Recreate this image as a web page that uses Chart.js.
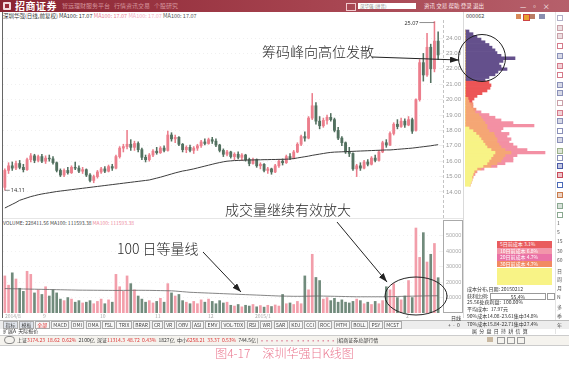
<!DOCTYPE html>
<html><head><meta charset="utf-8">
<script src="https://cdn.jsdelivr.net/npm/chart.js@4.4.1/dist/chart.umd.min.js"></script>
<style>
html,body{margin:0;padding:0;background:#fff;}
#root{position:relative;width:569px;height:378px;overflow:hidden;font-family:"Noto Sans CJK SC","Noto Sans",sans-serif;background:#fff;}
.abs{position:absolute;white-space:nowrap;}
canvas{position:absolute;}
.t5{font-size:5px;line-height:6px;}
.t55{font-size:5.5px;line-height:7px;}
.tb span{display:inline-block;border:0.5px solid #aaa;padding:0 1.4px;margin-right:1.2px;background:#f7f7f7;color:#444;}
</style></head><body><div id="root">

<!-- window title bar -->
<div class="abs" style="left:0;top:0;width:569px;height:12px;background:linear-gradient(90deg,#8a2432,#a6434f 55%,#b6606b);"></div>
<div class="abs" style="left:3px;top:2px;width:8px;height:8px;background:#f3d9dc;border-radius:1px;"></div>
<div class="abs" style="left:5px;top:4px;width:4px;height:4px;background:#9a2a38;"></div>
<div class="abs" style="left:15px;top:-1px;font-size:10px;line-height:13px;font-weight:bold;color:#fff;letter-spacing:0.5px;">招商证券</div>
<div class="abs" style="left:62px;top:2px;font-size:6px;line-height:8px;color:rgba(255,215,220,0.6);">智远理财服务平台&nbsp;&nbsp;&nbsp;行情资讯交易&nbsp;&nbsp;&nbsp;个股研究</div>
<div class="abs" style="left:346px;top:3px;width:8px;height:6px;border:0.5px solid #f0c8cc;"></div>
<div class="abs" style="left:358px;top:3px;width:56px;height:6px;background:#fff;font-size:4.5px;line-height:6px;color:#888;padding-left:2px;">深华强 (拼音)</div>
<div class="abs" style="left:424px;top:2px;font-size:5.5px;line-height:8px;color:#fbe6e8;">资讯 交易 帮助 登录 退出</div>
<div class="abs" style="left:520px;top:0px;font-size:7px;line-height:12px;color:#fff;">—&nbsp;&nbsp;&nbsp;▫&nbsp;&nbsp;&nbsp;×</div>

<!-- info header line -->
<div class="abs t55" style="left:3px;top:13px;color:#333;">深圳华强(日线,前复权) MA100: 17.07 <span style="color:#e87f95">MA100: 17.07</span> <span style="color:#f2b0bf">MA100: 17.07</span> <span style="color:#555">MA100: 17.07</span></div>
<div class="abs t55" style="left:466px;top:13px;color:#444;">000062</div>
<div class="abs" style="left:516px;top:14px;width:5px;height:5px;background:#d88a5a;"></div>
<div class="abs" style="left:523px;top:14px;width:5px;height:5px;background:#e8a030;border:0.5px solid #c44;"></div>
<div class="abs" style="left:530px;top:14px;width:5px;height:5px;background:#b97c66;"></div>
<div class="abs" style="left:539px;top:14px;width:6px;height:5px;background:#8a8fb0;"></div>

<!-- frame lines -->
<div class="abs" style="left:2px;top:12px;width:1px;height:306px;background:#666;"></div>
<div class="abs" style="left:443px;top:20px;width:0;height:198px;border-left:0.5px dashed #c4c4c4;"></div>
<div class="abs" style="left:463px;top:12px;width:1px;height:306px;background:#dadada;"></div>
<div class="abs" style="left:3px;top:218px;width:460px;height:1px;background:#e6e6e6;"></div>
<div class="abs" style="left:443px;top:220px;width:20px;height:93px;border:0.5px solid #aaa;box-sizing:border-box;"></div>
<div class="abs" style="left:555px;top:12px;width:1px;height:322px;background:#e4e4e4;"></div>

<canvas id="price" width="465" height="192" style="left:0;top:18px;width:465px;height:192px;"></canvas>
<canvas id="chip" width="90" height="192" style="left:465px;top:18px;width:90px;height:192px;"></canvas>
<canvas id="vol" width="465" height="87" style="left:0;top:226px;width:465px;height:87px;"></canvas>

<div class="abs t5" style="left:3px;top:220px;color:#444;">VOLUME: 228411.56 MA100: 111593.38 <span style="color:#ec8ca0">MA100: 111593.38</span></div>

<!-- date labels -->
<div class="abs t5" style="left:5px;top:313px;color:#aaa;">2014/8</div>
<div class="abs t5" style="left:43px;top:313px;color:#aaa;">9</div>
<div class="abs t5" style="left:100px;top:313px;color:#aaa;">10</div>
<div class="abs t5" style="left:155px;top:313px;color:#aaa;">11</div>
<div class="abs t5" style="left:208px;top:313px;color:#aaa;">12</div>
<div class="abs t5" style="left:255px;top:313px;color:#aaa;">2015/1</div>
<div class="abs t5" style="left:406px;top:313px;color:#aaa;">2</div>

<!-- bottom toolbars -->
<div class="abs" style="left:0;top:320px;width:569px;height:8px;background:#ededed;border-top:0.5px solid #bbb;"></div>
<div class="abs t5 tb" style="left:3px;top:321px;"><span style="background:#dfe3ea">指标</span><span style="background:#dfe3ea">模板</span><span style="color:#d33">全部</span><span>MACD</span><span>DMI</span><span>DMA</span><span>FSL</span><span>TRIX</span><span>BRAR</span><span>CR</span><span>VR</span><span>OBV</span><span>ASI</span><span>EMV</span><span>VOL-TDX</span><span>RSI</span><span>WR</span><span>SAR</span><span>KDJ</span><span>CCI</span><span>ROC</span><span>MTM</span><span>BOLL</span><span>PSY</span><span>MCST</span></div>
<div class="abs t5" style="left:3px;top:328px;color:#333;">扩展A&nbsp;&nbsp;天际报价</div>
<div class="abs" style="left:0;top:335px;width:569px;height:9px;background:#f5f3ee;border-top:0.5px solid #ccc;border-bottom:0.5px solid #ccc;"></div>
<div class="abs" style="left:4px;top:336px;width:9px;height:6px;border:0.5px solid #888;border-radius:4px;"></div>
<div class="abs t5" style="left:17px;top:336.5px;color:#333;">上证<span style="color:#d33">3174.23&nbsp;&nbsp;18.62&nbsp;&nbsp;0.62%</span>&nbsp;&nbsp;2100亿&nbsp;&nbsp;深证<span style="color:#d33">11314.3&nbsp;&nbsp;48.72&nbsp;&nbsp;0.43%</span>&nbsp;&nbsp;1827亿&nbsp;&nbsp;中小<span style="color:#d33">6258.21&nbsp;&nbsp;33.37&nbsp;&nbsp;0.53%</span>&nbsp;&nbsp;744.5亿&nbsp;|&nbsp;<span style="color:#e08aa0">▪▪▪▪▪▪▪ ▪▪▪▪▪▪▪▪</span>&nbsp;|招商证券总部行情</div>
<div class="abs" style="left:487px;top:337px;width:6px;height:5px;background:#c9b8a0;"></div>
<div class="abs" style="left:497px;top:337px;width:6px;height:5px;border:0.5px solid #999;"></div>
<div class="abs" style="left:507px;top:337px;width:6px;height:5px;border:0.5px solid #999;"></div>
<div class="abs" style="left:517px;top:337px;width:6px;height:5px;border:0.5px solid #999;"></div>

<!-- right info panel -->
<div class="abs t5" style="left:451px;top:315px;color:#333;">日线</div>
<div class="abs t5" style="left:448px;top:322px;color:#333;">+&nbsp;&nbsp;-&nbsp;&nbsp;0</div>
<div class="abs t5" style="left:472px;top:328px;color:#333;">属&nbsp;&nbsp;分&nbsp;&nbsp;盘&nbsp;&nbsp;日&nbsp;&nbsp;持&nbsp;&nbsp;耕&nbsp;&nbsp;信&nbsp;&nbsp;算</div>
<div class="abs t5" style="left:497px;top:241px;width:55px;height:6.5px;background:#e95c5e;color:#fff;padding-left:3px;box-sizing:border-box;">5日前成本 3.1%</div>
<div class="abs t5" style="left:497px;top:247.5px;width:55px;height:6.5px;background:#f296aa;color:#fff;padding-left:3px;box-sizing:border-box;">10日前成本 6.8%</div>
<div class="abs t5" style="left:497px;top:254px;width:55px;height:6.5px;background:#ea72a6;color:#fff;padding-left:3px;box-sizing:border-box;">20日前成本 4.7%</div>
<div class="abs t5" style="left:497px;top:260.5px;width:55px;height:6.5px;background:#f28a62;color:#fff;padding-left:3px;box-sizing:border-box;">30日前成本 4.7%</div>
<div class="abs" style="left:497px;top:268px;width:55px;height:17px;background:#f8f386;"></div>
<div class="abs t5" style="left:467px;top:286px;color:#333;">成本分布,日期: 20150212</div>
<div class="abs t5" style="left:467px;top:292.5px;color:#333;">获利比例:</div>
<div class="abs t5" style="left:490px;top:292.5px;width:54px;height:5px;border:0.5px solid #999;text-align:center;color:#333;line-height:5px;">55.4%</div>
<div class="abs" style="left:547px;top:292.5px;width:6px;height:5px;border:0.5px solid #999;"></div>
<div class="abs t5" style="left:467px;top:299px;color:#333;">25.56处获利盘:&nbsp;&nbsp;100.00%</div>
<div class="abs t5" style="left:467px;top:305.5px;color:#333;">平均成本:&nbsp;&nbsp;17.97元</div>
<div class="abs t5" style="left:467px;top:313px;color:#333;">90%成本14.08-23.61集中34.8%</div>
<div class="abs t5" style="left:467px;top:321px;color:#333;">70%成本15.84-22.71集中27.4%</div>

<div id="rtool"></div>

<svg class="abs" style="left:0;top:0;" width="569" height="378">
<defs><marker id="ah" viewBox="0 0 10 7" refX="10" refY="3.5" markerWidth="9" markerHeight="6.3" orient="auto"><path d="M0,0 L10,3.5 L0,7 z" fill="#222"/></marker></defs>
<g font-family="'Noto Sans CJK SC',sans-serif" font-weight="300" fill="#2a2a2a">
<text x="262" y="57" font-size="14">筹码峰向高位发散</text>
<text x="225" y="215" font-size="14">成交量继续有效放大</text>
<text x="117" y="254" font-size="14">100 日等量线</text>
</g>
<line x1="372" y1="57" x2="459" y2="60" stroke="#222" stroke-width="1" marker-end="url(#ah)"/>
<circle cx="482" cy="58" r="23.5" fill="none" stroke="#222" stroke-width="1"/>
<line x1="337" y1="222" x2="387" y2="282" stroke="#222" stroke-width="1" marker-end="url(#ah)"/>
<ellipse cx="416" cy="296" rx="31" ry="19" fill="none" stroke="#222" stroke-width="1"/>
<line x1="203" y1="252" x2="241" y2="292" stroke="#222" stroke-width="1" marker-end="url(#ah)"/>
</svg>

<div class="abs" style="left:0;top:345px;width:569px;text-align:center;font-size:12px;line-height:16px;color:#ea7890;font-weight:300;">图4-17　深圳华强日K线图</div>
</div>

<script>
// ---------- price candles (daily) ----------
const open = [14.30,15.40,15.70,15.55,15.85,15.60,15.45,16.10,16.35,16.05,16.30,16.00,16.20,16.15,
15.90,15.40,15.10,15.40,15.25,15.60,15.55,15.35,15.45,15.10,14.75,
15.00,15.30,15.50,15.35,15.65,
15.55,16.30,16.85,16.95,17.10,16.90,17.15,
16.75,16.25,16.10,16.40,16.65,16.55,16.85,
16.70,17.70,17.45,17.55,
17.10,16.75,16.90,16.70,16.85,
17.00,17.25,17.15,17.40,17.30,
17.05,16.70,16.45,16.60,16.30,16.45,16.25,16.40,16.10,15.85,16.10,15.70,
15.80,15.40,15.50,15.30,
15.70,16.00,15.90,16.30,16.20,16.60,17.10,17.60,
17.50,18.80,19.60,18.60,18.30,18.65,18.85,18.70,18.00,17.50,17.20,16.60,
16.50,15.50,15.70,15.55,15.95,15.80,16.20,
16.05,16.60,17.20,17.05,17.80,18.40,18.25,18.60,18.35,18.70,
18.00,20.00,22.40,21.60,23.40,22.00,23.80];
const high = [15.50,15.90,15.95,16.00,16.05,15.80,16.20,16.50,16.45,16.40,16.45,16.35,16.40,16.30,
15.95,15.50,15.50,15.60,15.70,15.95,15.70,15.60,15.50,15.20,15.10,
15.40,15.60,15.65,15.75,15.80,
16.40,16.95,17.10,18.00,17.40,17.30,17.25,
16.85,16.40,16.50,16.75,16.90,16.95,17.00,
17.95,17.85,17.70,17.60,
17.15,17.00,17.05,16.95,17.10,
17.35,17.45,17.50,17.55,17.45,
17.10,16.80,16.70,16.65,16.55,16.60,16.50,16.45,16.20,16.20,16.15,15.90,
15.85,15.60,15.55,15.80,
16.10,16.15,16.40,16.50,16.70,17.20,17.70,17.90,
18.90,20.40,19.80,18.90,18.80,19.00,19.10,18.80,18.20,17.60,17.25,16.90,
16.55,15.80,15.90,16.05,16.10,16.30,16.40,
16.70,17.30,17.40,17.90,18.50,18.70,18.80,18.75,18.90,18.80,
20.05,22.60,23.00,24.30,23.60,25.07,24.40];
const low = [14.11,15.20,15.40,15.45,15.50,15.30,15.40,15.95,15.90,15.95,15.90,15.85,16.00,15.80,
15.30,15.00,15.00,15.15,15.20,15.45,15.25,15.20,15.00,14.65,14.60,
14.90,15.20,15.25,15.30,15.40,
15.50,16.20,16.60,16.80,16.70,16.70,16.60,
16.10,15.95,16.00,16.30,16.45,16.50,16.60,
16.65,17.30,17.20,17.00,
16.60,16.55,16.60,16.50,16.70,
16.90,17.05,17.10,17.15,16.95,
16.60,16.30,16.35,16.20,16.10,16.15,16.05,16.00,15.70,15.80,15.60,15.50,
15.30,15.20,15.15,15.25,
15.60,15.75,15.85,16.10,16.15,16.55,17.00,17.30,
17.45,18.70,18.40,18.10,18.20,18.40,18.60,17.90,17.40,17.00,16.50,16.30,
15.40,15.00,15.40,15.50,15.70,15.75,15.95,
16.00,16.55,16.90,17.00,17.70,18.10,18.20,18.20,18.30,17.80,
17.95,19.90,21.20,21.50,21.10,21.80,22.60];
const close = [15.40,15.70,15.55,15.85,15.60,15.45,16.10,16.35,16.05,16.30,16.00,16.20,16.15,15.90,
15.40,15.10,15.40,15.25,15.60,15.55,15.35,15.45,15.10,14.75,15.00,
15.30,15.50,15.35,15.65,15.55,
16.30,16.85,16.95,17.10,16.90,17.15,16.75,
16.25,16.10,16.40,16.65,16.55,16.85,16.70,
17.70,17.45,17.55,17.10,
16.75,16.90,16.70,16.85,17.00,
17.25,17.15,17.40,17.30,17.05,
16.70,16.45,16.60,16.30,16.45,16.25,16.40,16.10,15.85,16.10,15.70,15.80,
15.40,15.50,15.30,15.70,
16.00,15.90,16.30,16.20,16.60,17.10,17.60,17.50,
18.80,19.60,18.60,18.30,18.65,18.85,18.70,18.00,17.50,17.20,16.60,16.50,
15.50,15.70,15.55,15.95,15.80,16.20,16.05,
16.60,17.20,17.05,17.80,18.40,18.25,18.60,18.35,18.70,17.95,
20.00,22.40,21.60,23.40,22.00,23.80,22.90];
const ma100 = [12.96,13.08,13.20,13.32,13.46,13.54,13.62,13.70,13.76,13.82,
13.87,13.91,13.95,13.99,14.03,14.06,14.09,14.12,14.15,14.18,
14.21,14.24,14.27,14.30,14.33,14.36,14.39,14.42,14.45,14.48,
14.51,14.54,14.57,14.60,14.63,14.66,14.69,14.72,14.75,14.78,
14.84,14.90,14.96,15.03,15.10,15.17,15.24,15.30,15.36,15.40,
15.45,15.50,15.56,15.62,15.68,15.74,15.80,15.86,15.91,15.96,
16.00,16.02,16.04,16.05,16.06,16.07,16.08,16.08,16.09,16.09,
16.10,16.10,16.11,16.11,16.12,16.12,16.13,16.14,16.17,16.21,
16.25,16.29,16.33,16.38,16.42,16.46,16.50,16.54,16.57,16.59,
16.60,16.61,16.62,16.63,16.64,16.65,16.66,16.67,16.68,16.69,
16.70,16.71,16.72,16.73,16.73,16.75,16.77,16.79,16.81,16.83,
16.85,16.88,16.91,16.94,16.97,17.00,17.04,17.07];
const priceTicks = [14,15,16,17,18,19,20,21,22,23,24];

// ---------- volume ----------
const volume = [24000,18000,26000,22000,16000,14000,27000,25000,13000,15000,
12000,17000,11000,15000,13000,9000,8000,10000,9000,7000,
8000,6500,7000,8000,6000,7500,9000,6000,8500,7000,
25000,17000,14000,24000,19000,15000,11000,9000,7000,8000,
6500,7500,9500,7000,19000,13000,11000,12000,8000,7000,
6000,7500,6000,8500,7000,9000,7500,6000,8000,6500,
7000,5000,4500,5500,4000,5000,4500,5500,4000,4800,
3800,5000,4200,5200,4500,12000,6000,6500,5500,7500,
6000,24000,15000,38000,23000,21000,9000,10000,8000,9500,
7000,8500,7000,6500,7500,9000,8000,6000,7000,5500,
7500,6000,8000,17000,15000,19000,10000,8500,11000,21000,
10000,55000,36000,52000,33000,38000,45000,22841];
const volMa100 = [15800,15750,15700,15650,15600,15550,15500,15450,15400,15350,
15300,15250,15200,15150,15100,15050,15000,14950,14900,14850,
14800,14780,14760,14740,14720,14700,14680,14660,14640,14620,
14600,14620,14640,14660,14680,14700,14700,14680,14660,14640,
14600,14550,14500,14450,14400,14350,14200,14000,13800,13600,
13400,13300,13200,13100,13000,12900,12800,12700,12600,12500,
12400,12300,12200,12100,12000,11900,11800,11700,11600,11500,
11400,11300,11200,11100,11000,10950,10900,10850,10800,10800,
10800,10850,10900,10950,11000,11000,10950,10900,10850,10800,
10750,10700,10650,10600,10550,10500,10500,10500,10500,10500,
10500,10500,10500,10550,10600,10650,10700,10750,10800,10850,
10900,10950,11000,11050,11080,11110,11140,11160];
const volTicks = [10000,20000,30000,40000,50000];

// ---------- chip distribution (cost profile) ----------
const chipPrice  = [25.2,25.0,24.8,24.6,24.4,24.2,24.0,23.8,23.6,23.4,23.2,23.0,22.8,22.6,22.4,22.2,22.0,21.8,21.6,
21.4,21.2,21.0,20.8,20.6,20.4,20.2,20.0,19.8,19.6,19.4,19.2,19.0,18.8,18.6,18.4,18.2,18.0,17.8,17.6,17.4,17.2,17.0,
16.8,16.6,16.4,16.2,16.0,15.8,15.6,15.4,15.2,15.0,14.8,14.6,14.4,14.2,14.0,13.8];
const chipYellow = [0,0,0,0,0,0,0,0,0,0,0,0,0,0,0,0,0,0,0,
0,0,0,0,0,0,0,0,0,0,0,0,0,0,0,0,0,4,8,11,14,16,18,
20,22,26,30,28,26,24,22,18,12,9,8,7,7,6,5];
const chipOrange = [0,0,0,0,0,0,0,0,0,0,0,0,0,0,0,0,0,0,0,
0,0,0,0,0,0,3,4,5,6,8,10,14,16,18,20,22,18,16,18,16,16,14,
14,14,14,16,12,12,12,10,8,4,2,1,1,0,0,0];
const chipTop    = [4,8,12,16,20,24,27,30,32,36,50,38,34,36,42,33,30,24,20,
24,26,25,22,17,12,6,3,3,2,3,6,10,14,18,28,47,16,12,15,12,14,12,
14,16,22,34,12,10,12,8,6,3,1,1,0,0,0,0];

// ---------- rendering ----------
const labels = open.map((_, i) => String(i));
const isUp = close.map((c, i) => c >= open[i]);
const candleCol = isUp.map(u => u ? '#ec7e8c' : '#52705f');
const volCol = isUp.map(u => u ? '#f29eaa' : '#718b7c');
const Y0 = 12.83, Y1 = 25.3;

const extremes = {
  id: 'extremes',
  afterDatasetsDraw(chart) {
    const {ctx, scales: {x, y}} = chart;
    let iMax = 0, iMin = 0;
    high.forEach((h, i) => { if (h > high[iMax]) iMax = i; });
    low.forEach((l, i) => { if (l < low[iMin]) iMin = i; });
    ctx.save();
    ctx.font = '5.5px "Noto Sans", sans-serif';
    ctx.fillStyle = '#333'; ctx.strokeStyle = '#444'; ctx.lineWidth = 0.6;
    let px = x.getPixelForValue(iMax), py = y.getPixelForValue(high[iMax]);
    ctx.textAlign = 'right'; ctx.textBaseline = 'middle';
    ctx.fillText(high[iMax].toFixed(2), px - 16, py + 2);
    ctx.beginPath(); ctx.moveTo(px - 15, py + 1); ctx.lineTo(px, py + 1); ctx.stroke();
    px = x.getPixelForValue(iMin); py = y.getPixelForValue(low[iMin]);
    ctx.textAlign = 'left';
    ctx.beginPath(); ctx.moveTo(px, py); ctx.lineTo(px + 5, py); ctx.stroke();
    ctx.fillText(low[iMin].toFixed(2), px + 6, py);
    ctx.restore();
  }
};

new Chart(document.getElementById('price'), {
  type: 'bar',
  data: {
    labels,
    datasets: [
      {type: 'line', data: ma100, borderColor: '#3c3c3c', borderWidth: 1, pointRadius: 0, order: 0},
      {data: open.map((o, i) => [o, close[i]]), backgroundColor: candleCol, barThickness: 2.2, grouped: false, order: 1},
      {data: low.map((l, i) => [l, high[i]]), backgroundColor: candleCol, barThickness: 0.9, grouped: false, order: 2}
    ]
  },
  options: {
    animation: false, responsive: false, devicePixelRatio: 1,
    layout: {padding: {left: 3, right: 0, top: 0, bottom: 0}},
    plugins: {legend: {display: false}, tooltip: {enabled: false}},
    scales: {
      x: {display: false},
      y: {
        position: 'right', min: Y0, max: Y1,
        afterFit(s) { s.width = 25; s.paddingTop = 0; s.paddingBottom = 0; },
        afterBuildTicks(s) { s.ticks = priceTicks.map(v => ({value: v})); },
        ticks: {font: {size: 6}, color: '#9a9a9a', padding: 3, callback: v => Number(v).toFixed(2)},
        grid: {color: 'rgba(0,0,0,0.06)', tickLength: 3},
        border: {display: false, dash: [1, 3]}
      }
    }
  },
  plugins: [extremes]
});

new Chart(document.getElementById('vol'), {
  type: 'bar',
  data: {
    labels,
    datasets: [
      {type: 'line', data: volMa100, borderColor: '#666', borderWidth: 0.8, pointRadius: 0, order: 0},
      {data: volume, backgroundColor: volCol, barThickness: 2, order: 1}
    ]
  },
  options: {
    animation: false, responsive: false, devicePixelRatio: 1,
    layout: {padding: {left: 3, right: 0, top: 0, bottom: 0}},
    plugins: {legend: {display: false}, tooltip: {enabled: false}},
    scales: {
      x: {display: false},
      y: {
        position: 'right', min: 0, max: 56300,
        afterFit(s) { s.width = 25; s.paddingTop = 0; s.paddingBottom = 0; },
        afterBuildTicks(s) { s.ticks = volTicks.map(v => ({value: v})); },
        ticks: {font: {size: 5.5}, color: '#aaaaaa', padding: 3, callback: v => String(v)},
        grid: {color: 'rgba(0,0,0,0.05)', tickLength: 3},
        border: {display: false, dash: [1, 3]}
      }
    }
  }
});

const chipColor = p => p > 21.5 ? '#64508c' : (p > 19.9 ? '#ec5556' : (p > 19.3 ? '#f39274' : '#f390a4'));
new Chart(document.getElementById('chip'), {
  type: 'bar',
  data: {
    datasets: [
      {data: chipPrice.map((p, i) => ({y: p, x: chipYellow[i]})), backgroundColor: '#f7f386', stack: 'c'},
      {data: chipPrice.map((p, i) => ({y: p, x: chipOrange[i]})), backgroundColor: '#f5a674', stack: 'c'},
      {data: chipPrice.map((p, i) => ({y: p, x: chipTop[i]})), backgroundColor: c => c.raw ? chipColor(c.raw.y) : '#f390a4', stack: 'c'}
    ]
  },
  options: {
    indexAxis: 'y', animation: false, responsive: false, devicePixelRatio: 1,
    layout: {padding: 0},
    datasets: {bar: {barPercentage: 1, categoryPercentage: 1}},
    plugins: {legend: {display: false}, tooltip: {enabled: false}},
    scales: {
      x: {display: false, stacked: true, min: 0, max: 90},
      y: {type: 'linear', display: false, stacked: true, min: Y0, max: Y1}
    }
  }
});

// right-hand tool column
const toolY = [15,25,33,43,53,63,72,82,90,100,110,118,128,137,148,155,163,172,182,192,203,212];
const toolC = ['#b0b0c8','#c9a0a8','#c9a0a8','#d57a8a','#8a90b8','#d57a8a','#d57a8a','#8a90b8','#8a90b8','#c9a0a8','#d57a8a','#8a90b8','#8a90b8','#8a90b8','#9ab08a','#8a90b8','#4a5aa8','#c94a5a','#4a6ab8','#c97a4a','#8aa890','#8aa890'];
const rt = document.getElementById('rtool');
toolY.forEach((y, i) => {
  const d = document.createElement('div');
  d.className = 'abs';
  d.style.cssText = `left:557px;top:${y}px;width:6px;height:6px;border:0.5px solid ${toolC[i]};box-sizing:border-box;background:${i % 3 === 0 ? '#fff' : toolC[i] + '55'}`;
  rt.appendChild(d);
});
const toolTxt = ['1','5','15','30','60','日','周','月','N','多','季','年'];
const toolTy = [220,229,238,248,257,268,276,285,294,304,313,322];
toolTxt.forEach((t, i) => {
  const d = document.createElement('div');
  d.className = 'abs t5';
  d.style.cssText = `left:557px;top:${toolTy[i]}px;color:#555;`;
  d.textContent = t;
  rt.appendChild(d);
});
</script>
</body></html>
